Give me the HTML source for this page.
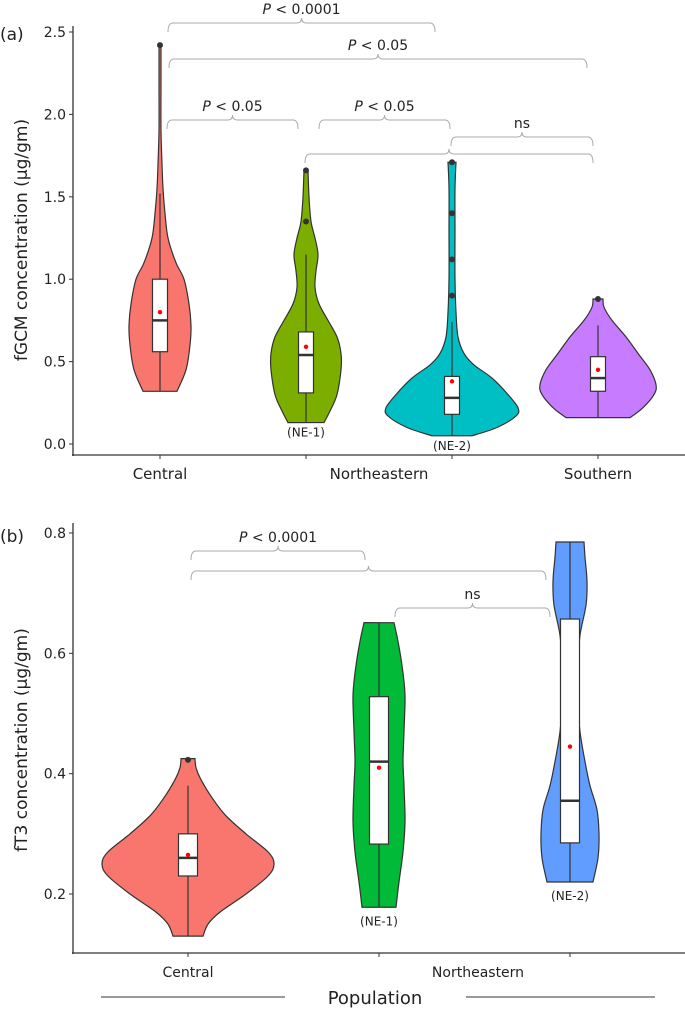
<!DOCTYPE html>
<html><head><meta charset="utf-8"><style>
html,body{margin:0;padding:0;background:#fff;}
svg{display:block;font-family:"DejaVu Sans","Liberation Sans",sans-serif;}
</style></head><body>
<svg id="c" width="685" height="1010" viewBox="0 0 685 1010" xmlns="http://www.w3.org/2000/svg"></svg>
<script>
// ---------- Panel A data ----------
const aCats = ["Central","Northeastern","Northeastern","Southern"];
const aTicks = [0,0.5,1.0,1.5,2.0,2.5];
const aColors = ["#F8766D","#7CAE00","#00BFC4","#C77CFF"];
const aQ1 = [0.56,0.31,0.18,0.32];
const aMed = [0.75,0.54,0.28,0.40];
const aQ3 = [1.0,0.68,0.41,0.53];
const aMean = [0.80,0.59,0.38,0.45];
const aWlo = [0.32,0.13,0.05,0.16];
const aWhi = [1.52,1.15,0.74,0.72];
const aOut = [[2.42],[1.35,1.66],[0.9,1.12,1.4,1.71],[0.88]];
const aViolin = [
 [[0.32,17],[0.45,26],[0.6,30],[0.72,31],[0.85,29],[1.0,24],[1.1,16],[1.25,8],[1.4,5],[1.55,3],[1.7,2],[1.9,1],[2.2,1],[2.42,1]],
 [[0.13,18],[0.2,24],[0.3,31],[0.45,35],[0.55,35],[0.65,31],[0.75,22],[0.85,13],[0.95,9],[1.05,10],[1.15,12],[1.25,9],[1.35,5],[1.5,3],[1.66,2]],
 [[0.05,20],[0.1,45],[0.17,64],[0.22,66],[0.3,56],[0.4,40],[0.48,22],[0.55,12],[0.65,6],[0.8,4],[1.0,3],[1.3,3],[1.55,3],[1.71,4]],
 [[0.16,32],[0.22,45],[0.3,56],[0.36,58],[0.45,52],[0.55,40],[0.65,28],[0.75,14],[0.83,6],[0.88,5]]
];
const aBrackets = [[0,2,"P < 0.0001"],[0,3,"P < 0.05"],[0,1,"P < 0.05"],[1,2,"P < 0.05"],[2,3,"ns"],[1,3,""]];
const aNote = [null,"(NE-1)","(NE-2)",null];

// ---------- Panel B data ----------
const bTicks = [0.2,0.4,0.6,0.8];
const bColors = ["#F8766D","#00BA38","#619CFF"];
const bQ1 = [0.23,0.283,0.285];
const bMed = [0.26,0.42,0.355];
const bQ3 = [0.30,0.528,0.657];
const bMean = [0.265,0.41,0.445];
const bWlo = [0.13,0.178,0.22];
const bWhi = [0.38,0.651,0.785];
const bOut = [[0.423],[],[]];
const bViolin = [
 [[0.13,15],[0.15,20],[0.17,32],[0.2,58],[0.23,80],[0.25,86],[0.27,80],[0.3,58],[0.33,38],[0.36,24],[0.39,13],[0.41,8],[0.425,7]],
 [[0.178,17],[0.22,20],[0.27,24],[0.32,26],[0.38,25],[0.42,24],[0.47,25],[0.53,26],[0.58,23],[0.62,19],[0.651,15]],
 [[0.22,23],[0.26,28],[0.3,29],[0.34,27],[0.38,20],[0.42,15],[0.47,10],[0.52,8],[0.58,8],[0.63,10],[0.68,16],[0.72,17],[0.76,15],[0.785,14]]
];
const bBrackets = [[0,1,"P < 0.0001"],[0,2,""],[1,2,"ns"]];
const bNote = [null,"(NE-1)","(NE-2)"];

const NS="http://www.w3.org/2000/svg";
const svg=document.getElementById('c');
function mk(tag,attrs,parent){const e=document.createElementNS(NS,tag);for(const k in attrs)e.setAttribute(k,attrs[k]);(parent||svg).appendChild(e);return e;}

const ayA = v => 444 - v*164.8;
const axA = i => 160 + i*146;
const ayB = v => 533 + (0.8 - v)*601.7;
const bX = [188,379,570];
const axB = i => bX[i];

function smoothPath(pts){
  let d="M"+pts[0][0]+","+pts[0][1];
  for(let i=0;i<pts.length-1;i++){
    const p0=pts[Math.max(0,i-1)],p1=pts[i],p2=pts[i+1],p3=pts[Math.min(pts.length-1,i+2)];
    const c1=[p1[0]+(p2[0]-p0[0])/6,p1[1]+(p2[1]-p0[1])/6];
    const c2=[p2[0]-(p3[0]-p1[0])/6,p2[1]-(p3[1]-p1[1])/6];
    d+=` C${c1[0].toFixed(1)},${c1[1].toFixed(1)} ${c2[0].toFixed(1)},${c2[1].toFixed(1)} ${p2[0].toFixed(1)},${p2[1].toFixed(1)}`;
  }
  return d;
}
function violin(g,cx,dens,ay,color){
  const right=dens.map(p=>[cx+p[1],ay(p[0])]);
  const left=dens.slice().reverse().map(p=>[cx-p[1],ay(p[0])]);
  let d=smoothPath(right)+" L"+left[0][0]+","+left[0][1]+smoothPath(left).replace(/^M[^C]*/,"")+" Z";
  const p=mk('path',{d:d,fill:color,stroke:'#333','stroke-width':1.2},g);
  
  
}
function box(g,cx,q1,med,q3,lo,hi,mean,outs,ay,hw){
  const w=mk('line',{x1:cx,x2:cx,y1:ay(lo),y2:ay(hi),stroke:'#333','stroke-width':1.2},g);
  
  
  const r=mk('rect',{x:cx-hw,y:ay(q3),width:2*hw,height:ay(q1)-ay(q3),fill:'#fff',stroke:'#333','stroke-width':1.2},g);
  
  
  const m=mk('line',{x1:cx-hw,x2:cx+hw,y1:ay(med),y2:ay(med),stroke:'#333','stroke-width':2.5},g);
  
  
  const mn=mk('circle',{cx:cx,cy:ay(mean),r:2.2,fill:'#f00'},g);
  
  
  outs.forEach(o=>{const c=mk('circle',{cx:cx,cy:ay(o),r:3,fill:'#333'},g);
    
    });
}
function bracket(g,x1,x2,y,label,drop){
  const cx=(x1+x2)/2, r=5;
  const d=`M${x1},${y+drop} Q${x1},${y} ${x1+r},${y} L${cx-r},${y} Q${cx},${y} ${cx},${y-r} Q${cx},${y} ${cx+r},${y} L${x2-r},${y} Q${x2},${y} ${x2},${y+drop}`;
  const p=mk('path',{d:d,fill:'none',stroke:'#aaa','stroke-width':1},g);
  
  
  if(label){
    const t=mk('text',{x:cx,y:y-9,'text-anchor':'middle','font-size':14,fill:'#222'},g);
    
    
    if(label.startsWith('P')){
      const ts=mk('tspan',{'font-style':'italic'},t);ts.textContent='P';
      const t2=mk('tspan',{},t);t2.textContent=label.slice(1);
    } else t.textContent=label;
  }
}
function txt(g,x,y,s,size,anchor,name,extra){
  const t=mk('text',Object.assign({x:x,y:y,'font-size':size,'text-anchor':anchor||'start',fill:'#222'},extra||{}),g);
  t.textContent=s;
  
  
  return t;
}

// ---------- Panel A ----------
const gA=mk('g',{});


txt(gA,0,40,"(a)",17,'start','panel-a-label');
mk('line',{x1:73,x2:73,y1:26,y2:456,stroke:'#333','stroke-width':1.3},gA);
mk('line',{x1:72,x2:685,y1:455,y2:455,stroke:'#333','stroke-width':1.3},gA);
aTicks.forEach(v=>{
  mk('line',{x1:69,x2:73,y1:ayA(v),y2:ayA(v),stroke:'#333'},gA);
  txt(gA,66,ayA(v)+5,v.toFixed(1),14,'end','y-tick-label');
});
aCats.forEach((c,i)=>{
  mk('line',{x1:axA(i),x2:axA(i),y1:455,y2:459,stroke:'#333'},gA);
  if(i!==2) txt(gA,i===1?379:axA(i),479,c,15,'middle','x-tick-label');
});
txt(gA,0,0,"fGCM concentration (µg/gm)",17,'middle','y-axis-title',{transform:'translate(27,240) rotate(-90)'});
aViolin.forEach((dens,i)=>{
  const g=mk('g',{},gA);
  
  
  violin(g,axA(i),dens,ayA,aColors[i]);
  box(g,axA(i),aQ1[i],aMed[i],aQ3[i],aWlo[i],aWhi[i],aMean[i],aOut[i],ayA,7.5);
  if(aNote[i]) txt(g,axA(i),ayA(aWlo[i])+14,aNote[i],12,'middle','group-note');
});
const aBY=[23,59,120,120,137,154];
const aBX=[[168,435],[169,587],[167,298],[319,450],[451,593],[305,593]];
aBrackets.forEach((b,k)=>bracket(gA,aBX[k][0],aBX[k][1],aBY[k],b[2],9));

// ---------- Panel B ----------
const gB=mk('g',{});


txt(gB,0,542,"(b)",17,'start','panel-b-label');
mk('line',{x1:73,x2:73,y1:523,y2:954,stroke:'#333','stroke-width':1.3},gB);
mk('line',{x1:72,x2:685,y1:953,y2:953,stroke:'#333','stroke-width':1.3},gB);
bTicks.forEach(v=>{
  mk('line',{x1:69,x2:73,y1:ayB(v),y2:ayB(v),stroke:'#333'},gB);
  txt(gB,66,ayB(v)+5,v.toFixed(1),14,'end','y-tick-label');
});
bX.forEach((x,i)=>mk('line',{x1:x,x2:x,y1:953,y2:957,stroke:'#333'},gB));
txt(gB,188,977,"Central",14,'middle','x-tick-label');
txt(gB,478,977,"Northeastern",14,'middle','x-tick-label');
txt(gB,0,0,"fT3 concentration (µg/gm)",17,'middle','y-axis-title',{transform:'translate(27,740) rotate(-90)'});
bViolin.forEach((dens,i)=>{
  const g=mk('g',{},gB);
  
  
  violin(g,axB(i),dens,ayB,bColors[i]);
  box(g,axB(i),bQ1[i],bMed[i],bQ3[i],bWlo[i],bWhi[i],bMean[i],bOut[i],ayB,9.5);
  if(bNote[i]) txt(g,axB(i),ayB(bWlo[i])+18,bNote[i],12,'middle','group-note');
});
const bBY=[551,571,608];
const bBX=[[191,365],[191,546],[395,550]];
bBrackets.forEach((b,k)=>bracket(gB,bBX[k][0],bBX[k][1],bBY[k],b[2],9));
mk('line',{x1:101,x2:285,y1:997,y2:997,stroke:'#333'},gB);
mk('line',{x1:466,x2:655,y1:997,y2:997,stroke:'#333'},gB);
txt(gB,375,1004,"Population",18,'middle','x-axis-title');
</script>
</body></html>
